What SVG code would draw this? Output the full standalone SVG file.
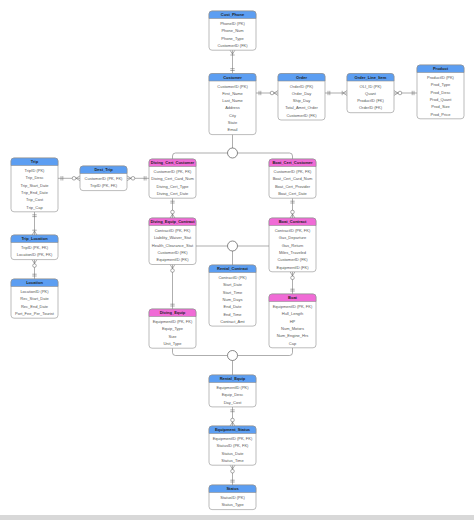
<svg xmlns="http://www.w3.org/2000/svg" xmlns:xlink="http://www.w3.org/1999/xlink" width="474" height="520" viewBox="0 0 474 520">
<style>
.box{fill:#fff;stroke:#8e8e8e;stroke-width:0.6}
.hb{fill:#5c9ef2;stroke:#8e8e8e;stroke-width:0.6}
.hp{fill:#f06bd6;stroke:#8e8e8e;stroke-width:0.6}
text{font-family:"Liberation Sans",Arial,sans-serif;font-size:4px;text-anchor:middle;fill:#555}
text.h{font-weight:bold;fill:#1e1e1e}
.ln{fill:none;stroke:#777;stroke-width:0.6}
.nt{fill:none;stroke:#666;stroke-width:0.55}
.nc{fill:#fff;stroke:#666;stroke-width:0.55}
.dc{fill:#fff;stroke:#555;stroke-width:0.7}
</style>
<defs>
<path id="hdr" d="M0,7.5V3A3,3 0 0 1 3,0H44A3,3 0 0 1 47,3V7.5Z"/>
<g id="one" class="nt"><path d="M3,-2.2V2.2M4.8,-2.2V2.2"/></g>
<g id="omany" class="nt"><path d="M0,-2.4L4,0M0,2.4L4,0M4.8,-2.2V2.2"/></g>
<g id="zmany"><path class="nt" d="M0,-2.4L4,0M0,2.4L4,0"/><circle class="nc" cx="6" cy="0" r="1.8"/></g>
</defs>
<rect width="474" height="520" fill="#fff"/>
<rect x="0" y="515" width="474" height="5" fill="#d8d8d8"/>

<g id="connectors">
<path class="ln" d="M232.5,50.2V73.5"/>
<use href="#omany" transform="translate(232.5,50.2) rotate(90)"/>
<use href="#one" transform="translate(232.5,73.5) rotate(-90)"/>
<path class="ln" d="M256,93H278"/>
<use href="#one" transform="translate(256,93)"/>
<use href="#zmany" transform="translate(278,93) rotate(180)"/>
<path class="ln" d="M325,93H347"/>
<use href="#one" transform="translate(325,93)"/>
<use href="#omany" transform="translate(347,93) rotate(180)"/>
<path class="ln" d="M394,93H417"/>
<use href="#zmany" transform="translate(394,93)"/>
<use href="#one" transform="translate(417,93) rotate(180)"/>
<path class="ln" d="M58,178.3H80"/>
<use href="#one" transform="translate(58,178.3)"/>
<use href="#zmany" transform="translate(80,178.3) rotate(180)"/>
<path class="ln" d="M127,178.3H149"/>
<use href="#zmany" transform="translate(127,178.3)"/>
<use href="#one" transform="translate(149,178.3) rotate(180)"/>
<path class="ln" d="M34.5,211.8V235"/>
<use href="#one" transform="translate(34.5,211.8) rotate(90)"/>
<use href="#omany" transform="translate(34.5,235) rotate(-90)"/>
<path class="ln" d="M34.5,259.6V279"/>
<use href="#zmany" transform="translate(34.5,259.6) rotate(90)"/>
<use href="#one" transform="translate(34.5,279) rotate(-90)"/>
<path class="ln" d="M232.5,134.6V148M227.5,153H175.5Q172.5,153 172.5,156V159M237.5,153H289.5Q292.5,153 292.5,156V159"/>
<circle class="dc" cx="232.5" cy="153" r="5"/>
<path class="ln" d="M172.5,198.2V218M292.5,198.2V218"/>
<use href="#one" transform="translate(172.5,198.2) rotate(90)"/>
<use href="#zmany" transform="translate(172.5,218) rotate(-90)"/>
<use href="#one" transform="translate(292.5,198.2) rotate(90)"/>
<use href="#zmany" transform="translate(292.5,218) rotate(-90)"/>
<path class="ln" d="M196,246H227.5M237.5,246H269M232.5,251V265"/>
<circle class="dc" cx="232.5" cy="246" r="5"/>
<path class="ln" d="M172.5,264.5V309M292.5,271.8V294"/>
<use href="#zmany" transform="translate(172.5,264.5) rotate(90)"/>
<use href="#one" transform="translate(172.5,309) rotate(-90)"/>
<use href="#zmany" transform="translate(292.5,271.8) rotate(90)"/>
<use href="#one" transform="translate(292.5,294) rotate(-90)"/>
<path class="ln" d="M172.5,348.2V352.5Q172.5,355.5 175.5,355.5H227.5M292.5,347.8V352.5Q292.5,355.5 289.5,355.5H237.5M232.5,360.5V375"/>
<circle class="dc" cx="232.5" cy="355.5" r="5"/>
<path class="ln" d="M232.5,406.9V426M232.5,465.2V485"/>
<use href="#one" transform="translate(232.5,406.9) rotate(90)"/>
<use href="#zmany" transform="translate(232.5,426) rotate(-90)"/>
<use href="#zmany" transform="translate(232.5,465.2) rotate(90)"/>
<use href="#one" transform="translate(232.5,485) rotate(-90)"/>
</g>

<g id="Cust_Phone" transform="translate(209,11)">
<rect class="box" width="47" height="39.2" rx="3"/><use href="#hdr" class="hb"/>
<text class="h" x="23.5" y="5.2">Cust_Phone</text>
<text x="23.5" y="14.05">PhoneID (PK)</text><text x="23.5" y="21.35">Phone_Num</text><text x="23.5" y="28.65">Phone_Type</text><text x="23.5" y="35.95">CustomerID (FK)</text>
</g>
<g id="Customer" transform="translate(209,73.5)">
<rect class="box" width="47" height="61.1" rx="3"/><use href="#hdr" class="hb"/>
<text class="h" x="23.5" y="5.2">Customer</text>
<text x="23.5" y="14.05">CustomerID (PK)</text><text x="23.5" y="21.35">First_Name</text><text x="23.5" y="28.65">Last_Name</text><text x="23.5" y="35.95">Address</text><text x="23.5" y="43.25">City</text><text x="23.5" y="50.55">State</text><text x="23.5" y="57.85">Email</text>
</g>
<g id="Order" transform="translate(278,73.5)">
<rect class="box" width="47" height="46.5" rx="3"/><use href="#hdr" class="hb"/>
<text class="h" x="23.5" y="5.2">Order</text>
<text x="23.5" y="14.05">OrderID (PK)</text><text x="23.5" y="21.35">Order_Day</text><text x="23.5" y="28.65">Ship_Day</text><text x="23.5" y="35.95">Total_Amnt_Order</text><text x="23.5" y="43.25">CustomerID (FK)</text>
</g>
<g id="Order_Line_Item" transform="translate(347,73.5)">
<rect class="box" width="47" height="39.2" rx="3"/><use href="#hdr" class="hb"/>
<text class="h" x="23.5" y="5.2">Order_Line_Item</text>
<text x="23.5" y="14.05">OLI_ID (PK)</text><text x="23.5" y="21.35">Quant</text><text x="23.5" y="28.65">ProductID (FK)</text><text x="23.5" y="35.95">OrderID (FK)</text>
</g>
<g id="Product" transform="translate(417,65)">
<rect class="box" width="47" height="53.8" rx="3"/><use href="#hdr" class="hb"/>
<text class="h" x="23.5" y="5.2">Product</text>
<text x="23.5" y="14.05">ProductID (PK)</text><text x="23.5" y="21.35">Prod_Type</text><text x="23.5" y="28.65">Prod_Desc</text><text x="23.5" y="35.95">Prod_Quant</text><text x="23.5" y="43.25">Prod_Size</text><text x="23.5" y="50.55">Prod_Price</text>
</g>
<g id="Trip" transform="translate(11,158)">
<rect class="box" width="47" height="53.8" rx="3"/><use href="#hdr" class="hb"/>
<text class="h" x="23.5" y="5.2">Trip</text>
<text x="23.5" y="14.05">TripID (PK)</text><text x="23.5" y="21.35">Trip_Desc</text><text x="23.5" y="28.65">Trip_Start_Date</text><text x="23.5" y="35.95">Trip_End_Date</text><text x="23.5" y="43.25">Trip_Cost</text><text x="23.5" y="50.55">Trip_Cap</text>
</g>
<g id="Dest_Trip" transform="translate(80,166)">
<rect class="box" width="47" height="24.6" rx="3"/><use href="#hdr" class="hb"/>
<text class="h" x="23.5" y="5.2">Dest_Trip</text>
<text x="23.5" y="14.05">CustomerID (PK, FK)</text><text x="23.5" y="21.35">TripID (PK, FK)</text>
</g>
<g id="Diving_Cert_Customer" transform="translate(149,159)">
<rect class="box" width="47" height="39.2" rx="3"/><use href="#hdr" class="hp"/>
<text class="h" x="23.5" y="5.2">Diving_Cert_Customer</text>
<text x="23.5" y="14.05">CustomerID (PK, FK)</text><text x="23.5" y="21.35">Diving_Cert_Card_Num</text><text x="23.5" y="28.65">Diving_Cert_Type</text><text x="23.5" y="35.95">Diving_Cert_Date</text>
</g>
<g id="Boat_Cert_Customer" transform="translate(269,159)">
<rect class="box" width="47" height="39.2" rx="3"/><use href="#hdr" class="hp"/>
<text class="h" x="23.5" y="5.2">Boat_Cert_Customer</text>
<text x="23.5" y="14.05">CustomerID (PK, FK)</text><text x="23.5" y="21.35">Boat_Cert_Card_Num</text><text x="23.5" y="28.65">Boat_Cert_Provider</text><text x="23.5" y="35.95">Boat_Cert_Date</text>
</g>
<g id="Trip_Location" transform="translate(11,235)">
<rect class="box" width="47" height="24.6" rx="3"/><use href="#hdr" class="hb"/>
<text class="h" x="23.5" y="5.2">Trip_Location</text>
<text x="23.5" y="14.05">TripID (PK, FK)</text><text x="23.5" y="21.35">LocationID (PK, FK)</text>
</g>
<g id="Location" transform="translate(11,279)">
<rect class="box" width="47" height="39.2" rx="3"/><use href="#hdr" class="hb"/>
<text class="h" x="23.5" y="5.2">Location</text>
<text x="23.5" y="14.05">LocationID (PK)</text><text x="23.5" y="21.35">Rec_Start_Date</text><text x="23.5" y="28.65">Rec_End_Date</text><text x="23.5" y="35.95">Port_Fee_Per_Tourist</text>
</g>
<g id="Diving_Equip_Contract" transform="translate(149,218)">
<rect class="box" width="47" height="46.5" rx="3"/><use href="#hdr" class="hp"/>
<text class="h" x="23.5" y="5.2">Diving_Equip_Contract</text>
<text x="23.5" y="14.05">ContractID (PK, FK)</text><text x="23.5" y="21.35">Liability_Waiver_Stat</text><text x="23.5" y="28.65">Health_Clearance_Stat</text><text x="23.5" y="35.95">CustomerID (FK)</text><text x="23.5" y="43.25">EquipmentID (FK)</text>
</g>
<g id="Boat_Contract" transform="translate(269,218)">
<rect class="box" width="47" height="53.8" rx="3"/><use href="#hdr" class="hp"/>
<text class="h" x="23.5" y="5.2">Boat_Contract</text>
<text x="23.5" y="14.05">ContractID (PK, FK)</text><text x="23.5" y="21.35">Gas_Departure</text><text x="23.5" y="28.65">Gas_Return</text><text x="23.5" y="35.95">Miles_Traveled</text><text x="23.5" y="43.25">CustomerID (FK)</text><text x="23.5" y="50.55">EquipmentID (FK)</text>
</g>
<g id="Rental_Contract" transform="translate(209,265)">
<rect class="box" width="47" height="61.1" rx="3"/><use href="#hdr" class="hb"/>
<text class="h" x="23.5" y="5.2">Rental_Contract</text>
<text x="23.5" y="14.05">ContractID (PK)</text><text x="23.5" y="21.35">Start_Date</text><text x="23.5" y="28.65">Start_Time</text><text x="23.5" y="35.95">Num_Days</text><text x="23.5" y="43.25">End_Date</text><text x="23.5" y="50.55">End_Time</text><text x="23.5" y="57.85">Contract_Amt</text>
</g>
<g id="Diving_Equip" transform="translate(149,309)">
<rect class="box" width="47" height="39.2" rx="3"/><use href="#hdr" class="hp"/>
<text class="h" x="23.5" y="5.2">Diving_Equip</text>
<text x="23.5" y="14.05">EquipmentID (PK, FK)</text><text x="23.5" y="21.35">Equip_Type</text><text x="23.5" y="28.65">Size</text><text x="23.5" y="35.95">Unit_Type</text>
</g>
<g id="Boat" transform="translate(269,294)">
<rect class="box" width="47" height="53.8" rx="3"/><use href="#hdr" class="hp"/>
<text class="h" x="23.5" y="5.2">Boat</text>
<text x="23.5" y="14.05">EquipmentID (PK, FK)</text><text x="23.5" y="21.35">Hull_Length</text><text x="23.5" y="28.65">HP</text><text x="23.5" y="35.95">Num_Motors</text><text x="23.5" y="43.25">Num_Engine_Hrs</text><text x="23.5" y="50.55">Cap</text>
</g>
<g id="Rental_Equip" transform="translate(209,375)">
<rect class="box" width="47" height="31.9" rx="3"/><use href="#hdr" class="hb"/>
<text class="h" x="23.5" y="5.2">Rental_Equip</text>
<text x="23.5" y="14.05">EquipmentID (PK)</text><text x="23.5" y="21.35">Equip_Desc</text><text x="23.5" y="28.65">Day_Cost</text>
</g>
<g id="Equipment_Status" transform="translate(209,426)">
<rect class="box" width="47" height="39.2" rx="3"/><use href="#hdr" class="hb"/>
<text class="h" x="23.5" y="5.2">Equipment_Status</text>
<text x="23.5" y="14.05">EquipmentID (PK, FK)</text><text x="23.5" y="21.35">StatusID (PK, FK)</text><text x="23.5" y="28.65">Status_Date</text><text x="23.5" y="35.95">Status_Time</text>
</g>
<g id="Status" transform="translate(209,485)">
<rect class="box" width="47" height="24.6" rx="3"/><use href="#hdr" class="hb"/>
<text class="h" x="23.5" y="5.2">Status</text>
<text x="23.5" y="14.05">StatusID (PK)</text><text x="23.5" y="21.35">Status_Type</text>
</g>
</svg>
